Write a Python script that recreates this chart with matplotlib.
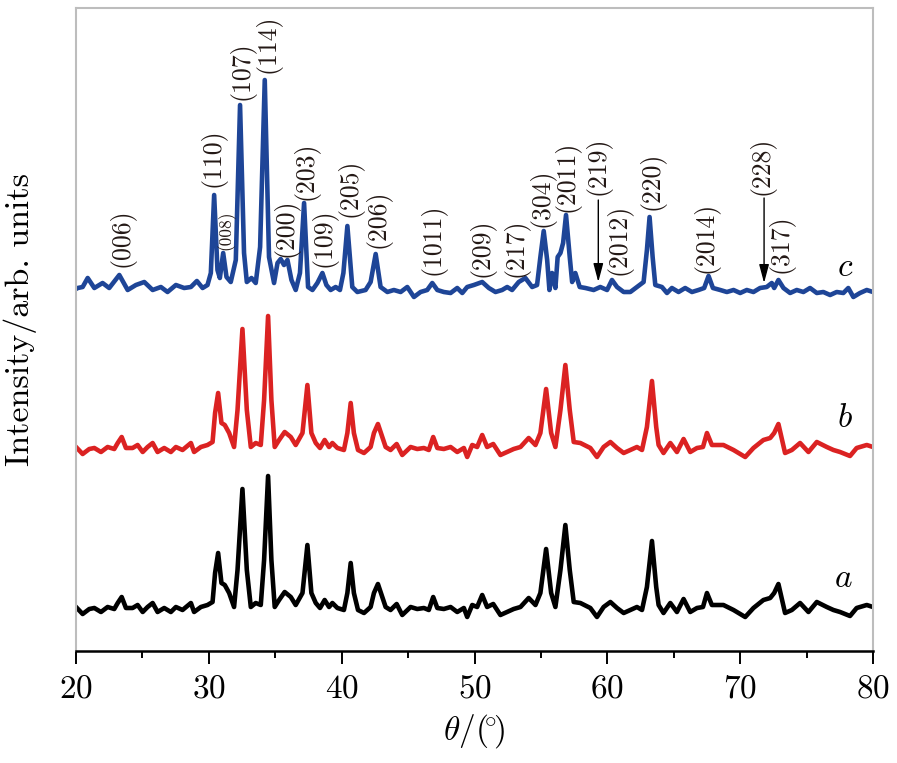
import numpy as np
import matplotlib

matplotlib.use("Agg")
import matplotlib.pyplot as plt

plt.rcParams["font.family"] = "cmr10"
plt.rcParams["mathtext.fontset"] = "cm"
plt.rcParams["axes.formatter.use_mathtext"] = True

# --- sample c (blue), intensity in arb. units ---
theta_c = [
    20.0, 20.13, 20.5, 20.88, 21.38, 22.0, 22.5, 23.26, 23.89, 24.51,
    25.14, 25.77, 26.39, 26.89, 27.52, 28.14, 28.65, 29.1, 29.53, 29.9,
    30.15, 30.4, 30.65, 30.83, 31.08, 31.33, 31.65, 32.03, 32.35, 32.65,
    32.86, 33.21, 33.53, 33.86, 34.21, 34.53, 34.91, 35.17, 35.41, 35.66,
    35.92, 36.22, 36.54, 36.86, 37.17, 37.47, 37.8, 38.17, 38.55, 38.85,
    39.17, 39.55, 39.87, 40.13, 40.43, 40.80, 41.18, 41.80, 42.18, 42.56,
    42.93, 43.44, 43.93, 44.44, 44.94, 45.44, 45.94, 46.44, 46.82, 47.2,
    47.69, 48.2, 48.7, 49.08, 49.45, 49.95, 50.58, 51.08, 51.58, 52.08,
    52.46, 52.83, 53.33, 53.83, 54.34, 54.71, 54.96, 55.21, 55.47, 55.64,
    55.84, 56.09, 56.26, 56.47, 56.67, 56.89, 57.17, 57.35, 57.59, 57.92,
    58.35, 58.97, 59.47, 59.98, 60.35, 60.73, 61.23, 61.73, 62.23, 62.73,
    62.98, 63.18, 63.41, 63.61, 64.11, 64.49, 64.86, 65.36, 65.86, 66.37,
    66.86, 67.29, 67.62, 67.95, 68.5, 69.0, 69.5, 70.0, 70.5, 71.0,
    71.5, 72.0, 72.38, 72.56, 72.88, 73.26, 73.76, 74.26, 74.76, 75.26,
    75.77, 76.26, 76.77, 77.27, 77.77, 78.14, 78.52, 79.02, 79.53, 80.0,
]
intensity_c = [
    11, 12, 13, 22, 12, 17, 12, 25, 10, 15,
    18, 10, 13, 8, 15, 12, 13, 19, 12, 15,
    27, 105, 30, 22, 47, 23, 18, 40, 195, 47,
    18, 22, 17, 53, 220, 43, 17, 37, 41, 35,
    40, 20, 10, 27, 97, 13, 10, 17, 27, 15,
    10, 13, 10, 27, 74, 13, 8, 10, 18, 46,
    13, 8, 10, 8, 13, 3, 8, 10, 17, 10,
    8, 7, 12, 7, 13, 15, 18, 12, 8, 10,
    13, 10, 18, 22, 13, 15, 43, 69, 40, 10,
    27, 12, 43, 47, 57, 85, 43, 18, 27, 13,
    12, 10, 13, 10, 20, 13, 8, 8, 13, 18,
    50, 83, 43, 15, 13, 7, 12, 8, 12, 8,
    10, 12, 24, 12, 10, 8, 10, 7, 10, 8,
    12, 13, 17, 12, 20, 12, 7, 10, 8, 12,
    7, 8, 5, 8, 7, 12, 3, 7, 10, 8,
]

# --- sample b (red) ---
theta_b = [
    20.0, 20.5, 21.0, 21.38, 21.88, 22.38, 22.88, 23.14, 23.44, 23.76,
    24.26, 24.64, 25.02, 25.39, 25.77, 26.14, 26.64, 27.14, 27.52, 28.02,
    28.65, 28.89, 29.4, 29.9, 30.28, 30.47, 30.7, 30.95, 31.2, 31.53,
    31.9, 32.16, 32.53, 32.86, 33.16, 33.53, 33.91, 34.16, 34.46, 34.71,
    34.96, 35.29, 35.71, 36.17, 36.54, 37.05, 37.42, 37.72, 38.05, 38.37,
    38.72, 39.05, 39.3, 39.68, 40.17, 40.43, 40.68, 40.92, 41.23, 41.68,
    42.18, 42.43, 42.73, 43.06, 43.31, 43.68, 44.14, 44.56, 45.19, 45.69,
    46.19, 46.56, 46.89, 47.2, 47.69, 48.2, 48.7, 49.2, 49.45, 49.83,
    50.2, 50.58, 50.95, 51.41, 51.95, 52.46, 52.95, 53.46, 54.08, 54.59,
    54.96, 55.39, 55.77, 56.09, 56.47, 56.84, 57.17, 57.47, 57.97, 58.72,
    59.22, 59.72, 60.23, 60.73, 61.23, 61.73, 62.23, 62.61, 62.98, 63.36,
    63.68, 63.86, 64.23, 64.74, 65.24, 65.74, 66.24, 66.75, 67.2, 67.5,
    67.87, 68.74, 69.5, 70.38, 71.0, 71.75, 72.26, 72.56, 72.88, 73.21,
    73.38, 73.89, 74.51, 75.14, 75.77, 76.52, 77.02, 77.52, 78.27, 78.77,
    79.53, 80.0,
]
intensity_b = [
    12, 5, 10, 11, 7, 12, 10, 16, 22, 11,
    11, 14, 7, 12, 16, 7, 11, 7, 12, 9,
    16, 7, 12, 14, 17, 46, 66, 36, 34, 26,
    12, 49, 130, 49, 12, 16, 14, 59, 143, 59,
    12, 19, 27, 22, 14, 26, 74, 26, 16, 11,
    19, 12, 16, 11, 9, 26, 56, 26, 9, 6,
    12, 26, 35, 22, 12, 9, 15, 4, 12, 10,
    11, 9, 22, 11, 10, 12, 7, 11, 2, 14,
    12, 24, 12, 15, 4, 7, 10, 12, 21, 14,
    26, 70, 26, 12, 49, 94, 49, 17, 16, 11,
    2, 12, 17, 11, 6, 9, 12, 9, 32, 78,
    32, 14, 6, 16, 7, 20, 7, 11, 12, 26,
    14, 14, 9, 2, 11, 19, 21, 26, 35, 16,
    6, 9, 16, 7, 17, 12, 9, 7, 3, 11,
    14, 12,
]

# --- sample a (black): reads the same as b within pixel accuracy ---
theta_a = list(theta_b)
intensity_a = list(intensity_b)

# vertical stacking of the three patterns
offsets = {"a": 32, "b": 192, "c": 351}

# peak indices for pattern c: text, 2theta, height of text foot, font size
peak_labels = [
    ("(006)", 23.5, 384, 18.5),
    ("(110)", 30.3, 464, 18.5),
    ("(008)", 31.28, 401, 12.5),
    ("(107)", 32.48, 551, 18.5),
    ("(114)", 34.44, 578, 18.5),
    ("(200)", 35.8, 394, 18.5),
    ("(203)", 37.3, 451, 18.5),
    ("(109)", 38.65, 384, 18.5),
    ("(205)", 40.6, 434, 18.5),
    ("(206)", 42.7, 403, 18.5),
    ("(1011)", 46.9, 376, 18.5),
    ("(209)", 50.6, 374, 18.5),
    ("(217)", 53.1, 374, 18.5),
    ("(304)", 55.1, 424, 18.5),
    ("(2011)", 57.0, 439, 18.5),
    ("(219)", 59.3, 456, 18.5),
    ("(2012)", 60.9, 376, 18.5),
    ("(220)", 63.4, 441, 18.5),
    ("(2014)", 67.45, 378, 18.5),
    ("(228)", 71.65, 456, 18.5),
    ("(317)", 73.1, 378, 18.5),
]
# arrows marking weak reflections: 2theta, tail, head
arrow_marks = [(59.32, 451, 369), (71.8, 453, 368)]

fig = plt.figure(figsize=(8.97, 7.63), dpi=100)
ax = fig.add_axes([76 / 897, 1 - 651 / 763, 797 / 897, 643 / 763])

ax.plot(theta_a, np.array(intensity_a) + offsets["a"], color="#000000", lw=3.3,
        solid_joinstyle="round")
ax.plot(theta_b, np.array(intensity_b) + offsets["b"], color="#db2222", lw=3.3,
        solid_joinstyle="round")
ax.plot(theta_c, np.array(intensity_c) + offsets["c"], color="#1e4597", lw=3.3,
        solid_joinstyle="round")

for txt, x, y, fs in peak_labels:
    ax.text(x, y, txt, rotation=90, ha="center", va="bottom", fontsize=fs,
            color="#231815")

for x, y0, y1 in arrow_marks:
    ax.annotate("", xy=(x, y1), xytext=(x, y0),
                arrowprops=dict(arrowstyle="-|>,head_length=0.75,head_width=0.2",
                                color="black", lw=1, mutation_scale=15,
                                shrinkA=0, shrinkB=0))

ax.text(77.9, 384, r"$c$", fontsize=24, ha="center", va="center")
ax.text(77.9, 233, r"$b$", fontsize=24, ha="center", va="center")
ax.text(77.75, 73, r"$a$", fontsize=24, ha="center", va="center")

ax.set_xlim(20, 80)
ax.set_ylim(0, 643)
ax.set_yticks([])
ax.set_xticks(range(20, 81, 10))
ax.set_xticks(range(25, 80, 10), minor=True)
ax.tick_params(axis="x", which="major", direction="out", length=9, width=1.4,
               labelsize=24, pad=8)
ax.tick_params(axis="x", which="minor", direction="out", length=5, width=1.4)

for side in ["left", "top", "right"]:
    ax.spines[side].set_color("#bdbdbd")
    ax.spines[side].set_linewidth(1.5)
ax.spines["bottom"].set_linewidth(1.8)

ax.set_xlabel(r"$\theta/(\!^{\circ}\!)$", fontsize=24, labelpad=6)
fig.text(20 / 897, 1 - 320 / 763, "Intensity/arb. units", rotation=90,
         fontsize=24.5, ha="center", va="center")

fig.savefig("out.png", dpi=100)
